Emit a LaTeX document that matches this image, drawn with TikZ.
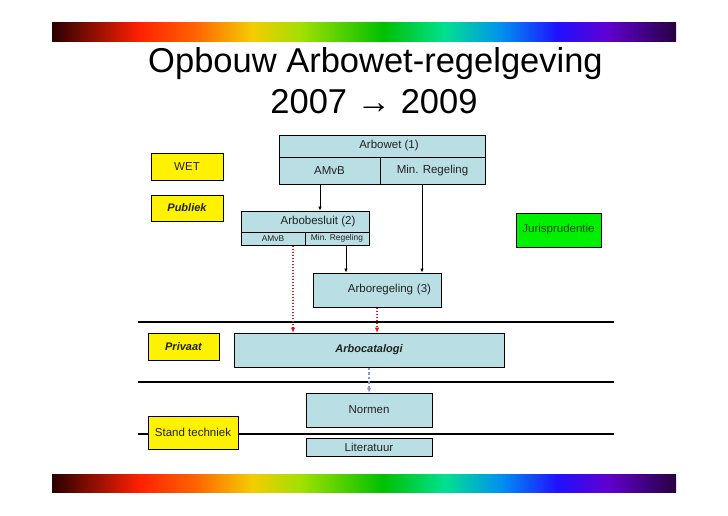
\documentclass[tikz,border=0pt]{standalone}
\usepackage{fontspec}
\setmainfont{Liberation Sans}
\usetikzlibrary{arrows.meta,calc}
\definecolor{boxblue}{HTML}{B9DEE3}
\definecolor{txt}{HTML}{222222}
\definecolor{jurgreen}{HTML}{00F000}
\definecolor{jurtext}{HTML}{004800}
\definecolor{dotred}{HTML}{E01818}
\definecolor{dashblue}{HTML}{8A96D2}
\definecolor{rb0}{HTML}{2A0000}
\definecolor{rb1}{HTML}{FF2000}
\definecolor{rb2}{HTML}{FF6400}
\definecolor{rb3}{HTML}{F5CC00}
\definecolor{rb4}{HTML}{A0E000}
\definecolor{rb5}{HTML}{00C000}
\definecolor{rb6}{HTML}{00E090}
\definecolor{rb7}{HTML}{0090F0}
\definecolor{rb8}{HTML}{2010FF}
\definecolor{rb9}{HTML}{6000D0}
\definecolor{rb10}{HTML}{280040}
\pgfdeclarehorizontalshading{rainbow}{100bp}{color(0bp)=(rb0); color(25bp)=(rb0); color(32bp)=(rb1); color(36.5bp)=(rb2); color(41bp)=(rb3); color(45bp)=(rb4); color(51.5bp)=(rb5); color(56.5bp)=(rb6); color(61bp)=(rb7); color(65.5bp)=(rb8); color(69.5bp)=(rb9); color(75bp)=(rb10); color(100bp)=(rb10)}
\begin{document}
\begin{tikzpicture}[x=1pt,y=-1pt,
  box/.style={draw=black, line width=1pt, fill=boxblue, inner sep=0pt, text=txt, font=\fontsize{11.5}{13}\selectfont},
  smallbox/.style={box, font=\fontsize{8.4}{10}\selectfont},
  bibox/.style={box, font=\fontsize{11}{13}\selectfont\bfseries\itshape},
  yelbox/.style={box, fill=yellow},
  yelbi/.style={bibox, fill=yellow},
  rule/.style={draw=black, line width=1.1pt},
  conn/.style={draw=black, line width=0.7pt, -{Latex[length=4pt,width=3.5pt]}},
  reddot/.style={draw=dotred, line width=1.3pt, dash pattern=on 1.3pt off 1.7pt, -{Latex[length=5pt,width=4.5pt,line width=0pt,fill=dotred]}},
  bluedash/.style={draw=dashblue, line width=1.5pt, dash pattern=on 2.5pt off 2pt, -{Latex[length=5pt,width=4.5pt,line width=0pt,fill=dashblue]}},
  bar/.style={shading=rainbow, draw=none},
  titlefont/.style={font=\fontsize{34.5}{40}\selectfont, text=black, inner sep=0pt}
]
\useasboundingbox (0,0) rectangle (728,515);

% rainbow bars
\path[bar] (52,22) rectangle (676,41);
\path[bar] (52,474) rectangle (676,492);

% title
\node[titlefont, anchor=base] (title1) at (375.5,72) {Opbouw Arbowet-regelgeving};
\node[titlefont, anchor=base] (title2) at (374,113) {2007 → 2009};

% horizontal rules
\draw[rule] (138,322) -- (614,322);
\draw[rule] (138,382) -- (614,382);
\draw[rule] (138,434) -- (614,434);

% Arbowet
\node[box, minimum width=206, minimum height=22] (arbowet) at (382,146) {\hspace*{14pt}Arbowet (1)};
\node[box, minimum width=101, minimum height=27] (amvbA) at (329.5,170.5) {AMvB};
\node[box, minimum width=105, minimum height=27] (minregA) at (432.5,170.5) {Min. Regeling};

% left labels
\node[yelbox, minimum width=72, minimum height=27] (wet) at (187,166.5) {WET};
\node[yelbi, minimum width=72, minimum height=26] (publiek) at (187,208) {Publiek};

% Arbobesluit
\node[box, minimum width=128, minimum height=21] (arbobesluit) at (305,221.5) {\hspace*{26pt}Arbobesluit (2)};
\node[smallbox, minimum width=64, minimum height=13] (amvbB) at (273,238.5) {AMvB};
\node[smallbox, minimum width=64, minimum height=13] (minregB) at (337,238.5) {Min. Regeling};

% Jurisprudentie
\node[box, fill=jurgreen, text=jurtext, minimum width=85, minimum height=34] (juris) at (558.5,230) {Jurisprudentie};

% Arboregeling
\node[box, minimum height=34, text width=108, align=right, inner xsep=10pt] (arboregeling) at (377,290) {Arboregeling (3)};

% Privaat / Arbocatalogi
\node[yelbi, minimum width=71, minimum height=27] (privaat) at (183.5,346.5) {Privaat};
\node[bibox, minimum width=270, minimum height=34] (arbocatalogi) at (369,350) {Arbocatalogi};

% Normen / Literatuur / Stand techniek
\node[box, minimum width=126, minimum height=34] (normen) at (369,410) {Normen};
\node[yelbox, minimum width=90, minimum height=33] (stand) at (193,432.5) {Stand techniek};
\node[box, minimum width=126, minimum height=18] (literatuur) at (369,447) {Literatuur};

% connectors
\draw[conn] ($(amvbA.south)+(-9.5,0)$) -- ($(arbobesluit.north)+(15,0)$);
\draw[conn] ($(minregA.south)+(-10.5,0)$) -- ($(arboregeling.north)+(45,0)$);
\draw[conn] ($(minregB.south)+(9,0)$) -- ($(arboregeling.north)+(-31,0)$);
\draw[reddot] ($(amvbB.south)+(20,0)$) -- ($(arbocatalogi.north)+(-76,0)$);
\draw[reddot] (arboregeling.south) -- ($(arbocatalogi.north)+(8,0)$);
\draw[bluedash] (arbocatalogi.south) -- (normen.north);
\end{tikzpicture}
\end{document}
